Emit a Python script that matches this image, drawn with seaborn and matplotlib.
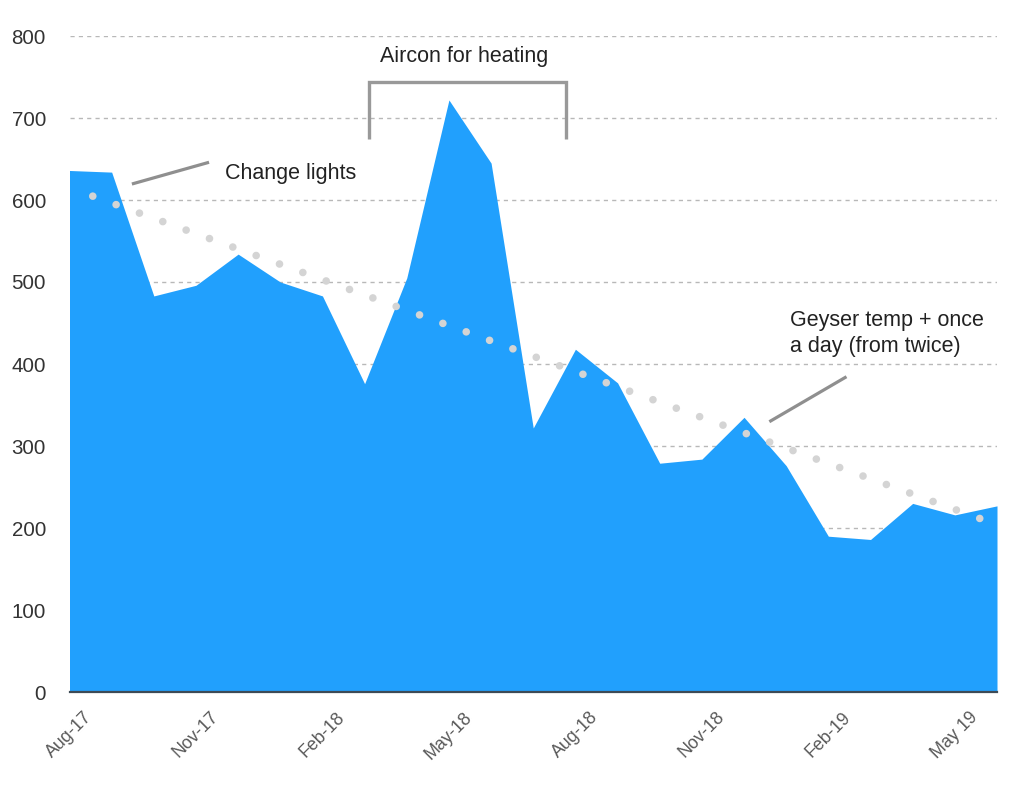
import matplotlib
matplotlib.use("Agg")
import matplotlib.pyplot as plt
import seaborn as sns
import numpy as np
import pandas as pd

# ---- data ----
values = [636, 634, 483, 496, 534, 500, 483, 376, 505, 722, 645, 322,
          418, 377, 279, 284, 335, 276, 190, 186, 230, 216, 227]
tick_labels = ["Aug-17", "Nov-17", "Feb-18", "May-18", "Aug-18",
               "Nov-18", "Feb-19", "May 19"]
trend_values = [615, 204]          # trendline at first and last month
y_ticks = [0, 100, 200, 300, 400, 500, 600, 700, 800]

months = np.arange(len(values))
tick_pos = months[::3]
df = pd.DataFrame({"month": months, "value": values})
trend_df = pd.DataFrame({"month": [months[0], months[-1]], "value": trend_values})

sns.set_theme(style="white")
plt.rcParams["font.family"] = ["Liberation Sans", "DejaVu Sans"]

fig = plt.figure(figsize=(10.24, 7.92), dpi=100)
ax = fig.add_axes([69.5 / 1024, 100 / 792, 927.5 / 1024, 656 / 792])

BLUE = "#21A0FD"

# grid
for v in y_ticks[1:]:
    ax.axhline(v, color="#b8b8b8", lw=1.0, ls=(0, (3, 3)), zorder=0)

# area
ax.fill_between(df["month"], 0, df["value"], color=BLUE, lw=0, zorder=2)

# trend line (dotted)
sns.lineplot(data=trend_df, x="month", y="value", ax=ax, color="#d4d4d4",
             lw=5.5, linestyle=(0.01, (0.001, 3.25)), dash_capstyle="round",
             zorder=3)

ax.set_xlim(0, len(values) - 1)
ax.set_ylim(0, 800)
ax.set_xticks(tick_pos)
ax.set_xticklabels(tick_labels, rotation=45, ha="center", color="#595959",
                   fontsize=12.8)
ax.set_yticks(y_ticks)
ax.set_yticklabels([str(v) for v in y_ticks], color="#333333", fontsize=14.8)
ax.tick_params(axis="x", length=0, pad=12)
ax.tick_params(axis="y", length=0, pad=17)
ax.set_xlabel("")
ax.set_ylabel("")

for s in ["top", "right", "left"]:
    ax.spines[s].set_visible(False)
ax.spines["bottom"].set_color("#3d4a56")
ax.spines["bottom"].set_linewidth(1.6)
ax.spines["bottom"].set_zorder(5)

# annotations
ann_col = "#8f8f8f"
txt_col = "#222222"
fs = 15.5
ax.plot([1.48, 3.31], [619.5, 646], color=ann_col, lw=2.3,
        solid_capstyle="butt", clip_on=False, zorder=4)
ax.text(3.69, 625.6, "Change lights", fontsize=fs, color=txt_col,
        va="baseline", ha="left")

ax.plot([7.11, 7.11, 11.78, 11.78], [674.4, 744.5, 744.5, 674.4],
        color="#999999", lw=2.4, solid_joinstyle="miter",
        solid_capstyle="butt", clip_on=False, zorder=4)
ax.text(9.35, 768.3, "Aircon for heating", fontsize=fs, color=txt_col,
        va="baseline", ha="center")

ax.plot([16.6, 18.43], [329.6, 384.5], color=ann_col, lw=2.3,
        solid_capstyle="butt", clip_on=False, zorder=4)
ax.text(17.1, 446.3, "Geyser temp + once", fontsize=fs, color=txt_col,
        va="baseline", ha="left")
ax.text(17.1, 415.0, "a day (from twice)", fontsize=fs, color=txt_col,
        va="baseline", ha="left")

fig.savefig("out.png", dpi=100)
